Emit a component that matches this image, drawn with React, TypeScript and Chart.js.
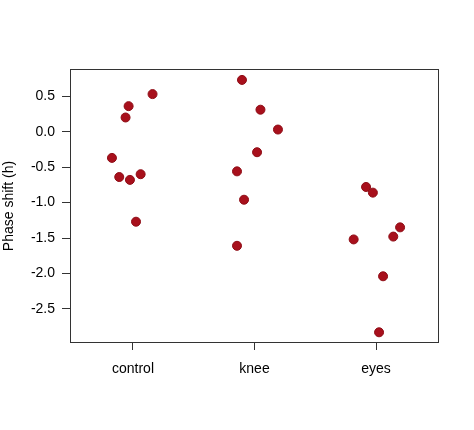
import React, { useEffect, useRef } from "react";
import { Chart, registerables } from "chart.js";

Chart.register(...registerables);

const categories = ["control", "knee", "eyes"];
const controlValues = [0.53, 0.36, 0.2, -0.37, -0.64, -0.68, -0.6, -1.27];
const controlJitter = [1.161, 0.964, 0.939, 0.827, 0.887, 0.975, 1.063, 1.025];
const kneeValues = [0.73, 0.31, 0.03, -0.29, -0.56, -0.96, -1.61];
const kneeJitter = [1.897, 2.049, 2.193, 2.021, 1.856, 1.914, 1.856];
const eyesValues = [-0.78, -0.86, -1.35, -1.48, -1.52, -2.04, -2.83];
const eyesJitter = [2.918, 2.974, 3.198, 3.142, 2.816, 3.058, 3.025];
const yTicks = [-2.5, -2.0, -1.5, -1.0, -0.5, 0.0, 0.5];
const yTitle = "Phase shift (h)";

const FONT = "'Liberation Sans', Arial, Helvetica, sans-serif";

export default function App() {
  const ref = useRef<HTMLCanvasElement | null>(null);
  useEffect(() => {
    document.body.style.margin = "0";
    const canvas = ref.current;
    if (!canvas) return;
    const pts: { x: number; y: number }[] = [];
    const groups = [
      [controlJitter, controlValues],
      [kneeJitter, kneeValues],
      [eyesJitter, eyesValues],
    ];
    groups.forEach(([xs, ys]) => xs.forEach((x, i) => pts.push({ x, y: ys[i] })));

    const framePlugin = {
      id: "frame",
      afterDraw(chart: any) {
        const { ctx, chartArea: a } = chart;
        ctx.save();
        ctx.strokeStyle = "#333";
        ctx.lineWidth = 1;
        ctx.strokeRect(a.left - 0.5, a.top - 0.5, a.right - a.left + 1, a.bottom - a.top + 1);
        ctx.restore();
      },
    };

    const chart = new Chart(canvas, {
      type: "scatter",
      data: {
        datasets: [
          {
            data: pts,
            backgroundColor: "#A8101C",
            borderColor: "#8E0C15",
            borderWidth: 1,
            pointRadius: 4.5,
          },
        ],
      },
      options: {
        animation: false,
        responsive: false,
        maintainAspectRatio: false,
        layout: { padding: { top: 70, right: 36, bottom: 0, left: 0 } },
        plugins: { legend: { display: false }, tooltip: { enabled: false } },
        scales: {
          x: {
            type: "linear",
            min: 0.49,
            max: 3.51,
            afterBuildTicks: (s: any) => {
              s.ticks = [1, 2, 3].map((v) => ({ value: v }));
            },
            afterFit: (s: any) => {
              s.height = 88;
            },
            ticks: {
              callback: (v: any) => categories[Math.round(v) - 1],
              color: "#000",
              font: { family: FONT, size: 14 },
              padding: 11,
              maxRotation: 0,
              autoSkip: false,
            },
            grid: { drawOnChartArea: false, drawTicks: true, tickLength: 8, color: "#333", lineWidth: 1 },
            border: { display: false },
          },
          y: {
            type: "linear",
            min: -2.967,
            max: 0.87,
            afterBuildTicks: (s: any) => {
              s.ticks = yTicks.map((v) => ({ value: v }));
            },
            afterFit: (s: any) => {
              s.width = 71;
            },
            ticks: {
              callback: (v: any) => Number(v).toFixed(1),
              color: "#000",
              font: { family: FONT, size: 14 },
              padding: 7,
              autoSkip: false,
            },
            grid: { drawOnChartArea: false, drawTicks: true, tickLength: 9, color: "#333", lineWidth: 1 },
            border: { display: false },
            title: {
              display: true,
              text: yTitle,
              color: "#000",
              font: { family: FONT, size: 14 },
              padding: { top: 1, bottom: 0 },
            },
          },
        },
      },
      plugins: [framePlugin],
    });
    return () => chart.destroy();
  }, []);
  return (
    <div style={{ width: 474, height: 430 }}>
      <canvas ref={ref} width={474} height={430} style={{ display: "block" }} />
    </div>
  );
}
